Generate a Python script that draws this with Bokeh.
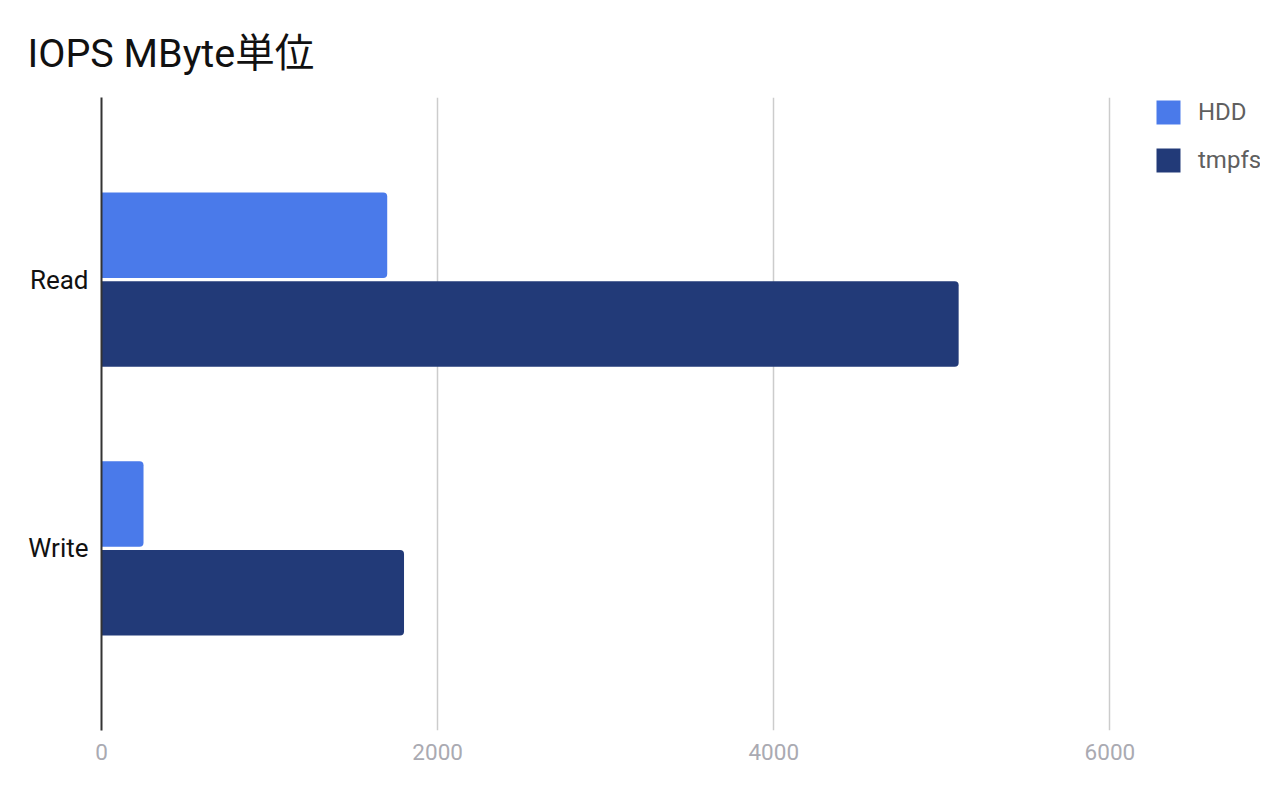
from bokeh.plotting import figure
from bokeh.models import ColumnDataSource, FactorRange, Range1d, FixedTicker, Legend, LegendItem
from bokeh.transform import dodge
from bokeh.embed import file_html
from bokeh.resources import INLINE

categories = ["Read", "Write"]
hdd = [1700, 250]
tmpfs = [5100, 1800]
x_ticks = [0, 2000, 4000, 6000]
series_names = ["HDD", "tmpfs"]
colors = ["#4a7aea", "#223a78"]

FONT = "Roboto, 'Noto Sans CJK JP', sans-serif"

src = ColumnDataSource(dict(cat=categories, hdd=hdd, tmpfs=tmpfs))

p = figure(
    width=1264, height=778,
    y_range=FactorRange(factors=categories[::-1], range_padding=0.177, range_padding_units="absolute"),
    x_range=Range1d(0, 6896),
    output_backend="svg", toolbar_location=None,
    min_border_left=101, min_border_right=4, min_border_top=97, min_border_bottom=48,
)
p.outline_line_color = None

p.title.text = "IOPS MByte単位"
p.title.text_font = FONT
p.title.text_font_size = "39.5px"
p.title.text_font_style = "normal"
p.title.text_color = "#111111"
p.title.align = "left"
p.title.offset = -74
p.title.standoff = 41

r1 = p.hbar(y=dodge("cat", 0.165, range=p.y_range), right="hdd", left=0, height=0.318,
            source=src, fill_color=colors[0], line_color=None, border_radius=(0, 4, 4, 0))
r2 = p.hbar(y=dodge("cat", -0.165, range=p.y_range), right="tmpfs", left=0, height=0.318,
            source=src, fill_color=colors[1], line_color=None, border_radius=(0, 4, 4, 0))

# x axis
xa = p.xaxis[0]
xa.ticker = FixedTicker(ticks=x_ticks)
xa.axis_line_color = None
xa.major_tick_line_color = None
xa.minor_tick_line_color = None
xa.major_label_text_font = FONT
xa.major_label_text_font_size = "22.5px"
xa.major_label_text_color = "#aaaab2"
xa.major_label_standoff = 7

# y axis
ya = p.yaxis[0]
ya.axis_line_color = "#333333"
ya.axis_line_width = 2
ya.major_tick_line_color = None
ya.minor_tick_line_color = None
ya.major_label_text_font = FONT
ya.major_label_text_font_size = "26px"
ya.major_label_text_color = "#111111"
ya.major_label_standoff = 7

p.xgrid.ticker = FixedTicker(ticks=x_ticks[1:])
p.xgrid.grid_line_color = "#cccccc"
p.xgrid.grid_line_width = 1.5
p.ygrid.grid_line_color = None

legend = Legend(
    items=[LegendItem(label=series_names[0], renderers=[r1]),
           LegendItem(label=series_names[1], renderers=[r2])],
    location=(1052, 555),
    orientation="vertical",
    glyph_width=30, glyph_height=30, label_height=30,
    spacing=18, padding=0, margin=0, label_standoff=15,
    label_text_font=FONT, label_text_font_size="24px", label_text_color="#5f5f5f",
    border_line_color=None, background_fill_alpha=0,
)
p.add_layout(legend, "center")

open("out.html", "w").write(file_html(p, INLINE))
